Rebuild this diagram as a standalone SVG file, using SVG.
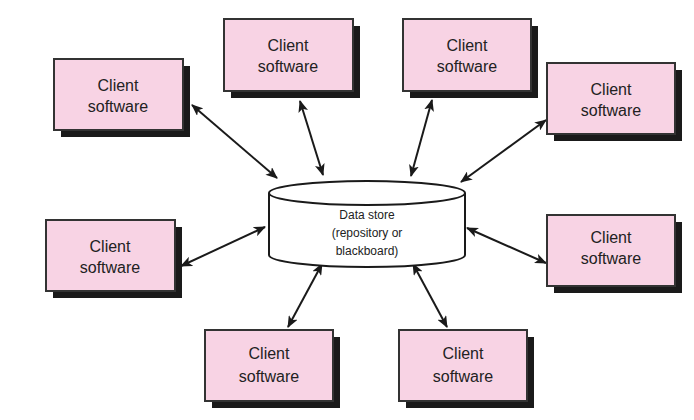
<svg xmlns="http://www.w3.org/2000/svg" width="694" height="420" viewBox="0 0 694 420">
<style>
.sh{fill:#1a1a1a}
.bx{fill:#f8d3e4;stroke:#333;stroke-width:2}
.t{font-family:"Liberation Sans",Arial,sans-serif;font-size:16px;fill:#222;text-anchor:middle}
.s{font-family:"Liberation Sans",Arial,sans-serif;font-size:12px;fill:#222;text-anchor:middle}
.c{stroke:#1a1a1a;stroke-width:2;fill:none;marker-start:url(#a);marker-end:url(#a)}
</style>
<defs>
<marker id="a" viewBox="0 0 12 10" refX="11" refY="5" markerWidth="6" markerHeight="5" orient="auto-start-reverse" markerUnits="strokeWidth">
<path d="M0,0 L12,5 L0,10 L3,5 z" fill="#1a1a1a"/>
</marker>
</defs>
<rect width="694" height="420" fill="#fff"/>
<g id="connectors">
<line class="c" x1="192" y1="105" x2="277" y2="178"/>
<line class="c" x1="300" y1="101" x2="323" y2="175"/>
<line class="c" x1="432" y1="100" x2="411" y2="176"/>
<line class="c" x1="546" y1="120" x2="461" y2="182"/>
<line class="c" x1="181" y1="266" x2="265" y2="227"/>
<line class="c" x1="546" y1="263" x2="467" y2="228"/>
<line class="c" x1="288" y1="327" x2="322" y2="264"/>
<line class="c" x1="447" y1="327" x2="413" y2="264"/>
</g>
<g id="store">
<path d="M269,193 L269,255 A98,12 0 0 0 465,255 L465,193" fill="#fff" stroke="#1a1a1a" stroke-width="2"/>
<ellipse cx="367" cy="193" rx="98" ry="12" fill="#fff" stroke="#1a1a1a" stroke-width="2"/>
<text class="s" x="367" y="219">Data store</text>
<text class="s" x="367" y="237">(repository or</text>
<text class="s" x="367" y="255">blackboard)</text>
</g>
<g id="c1"><rect class="sh" x="61" y="66" width="129" height="71"/><rect class="bx" x="54" y="59" width="129" height="71"/><text class="t" x="118" y="91">Client</text><text class="t" x="118" y="112">software</text></g>
<g id="c2"><rect class="sh" x="231" y="26" width="129" height="72"/><rect class="bx" x="224" y="19" width="129" height="72"/><text class="t" x="288" y="51">Client</text><text class="t" x="288" y="72">software</text></g>
<g id="c3"><rect class="sh" x="410" y="26" width="128" height="72"/><rect class="bx" x="403" y="19" width="128" height="72"/><text class="t" x="467" y="51">Client</text><text class="t" x="467" y="72">software</text></g>
<g id="c4"><rect class="sh" x="554" y="70" width="128" height="71"/><rect class="bx" x="547" y="63" width="128" height="71"/><text class="t" x="611" y="95">Client</text><text class="t" x="611" y="116">software</text></g>
<g id="c5"><rect class="sh" x="53" y="227" width="129" height="71"/><rect class="bx" x="46" y="220" width="129" height="71"/><text class="t" x="110" y="252">Client</text><text class="t" x="110" y="273">software</text></g>
<g id="c6"><rect class="sh" x="554" y="222" width="128" height="71"/><rect class="bx" x="547" y="215" width="128" height="71"/><text class="t" x="611" y="243">Client</text><text class="t" x="611" y="264">software</text></g>
<g id="c7"><rect class="sh" x="212" y="337" width="128" height="71"/><rect class="bx" x="205" y="330" width="128" height="71"/><text class="t" x="269" y="359">Client</text><text class="t" x="269" y="382">software</text></g>
<g id="c8"><rect class="sh" x="406" y="337" width="128" height="71"/><rect class="bx" x="399" y="330" width="128" height="71"/><text class="t" x="463" y="359">Client</text><text class="t" x="463" y="382">software</text></g>
</svg>
